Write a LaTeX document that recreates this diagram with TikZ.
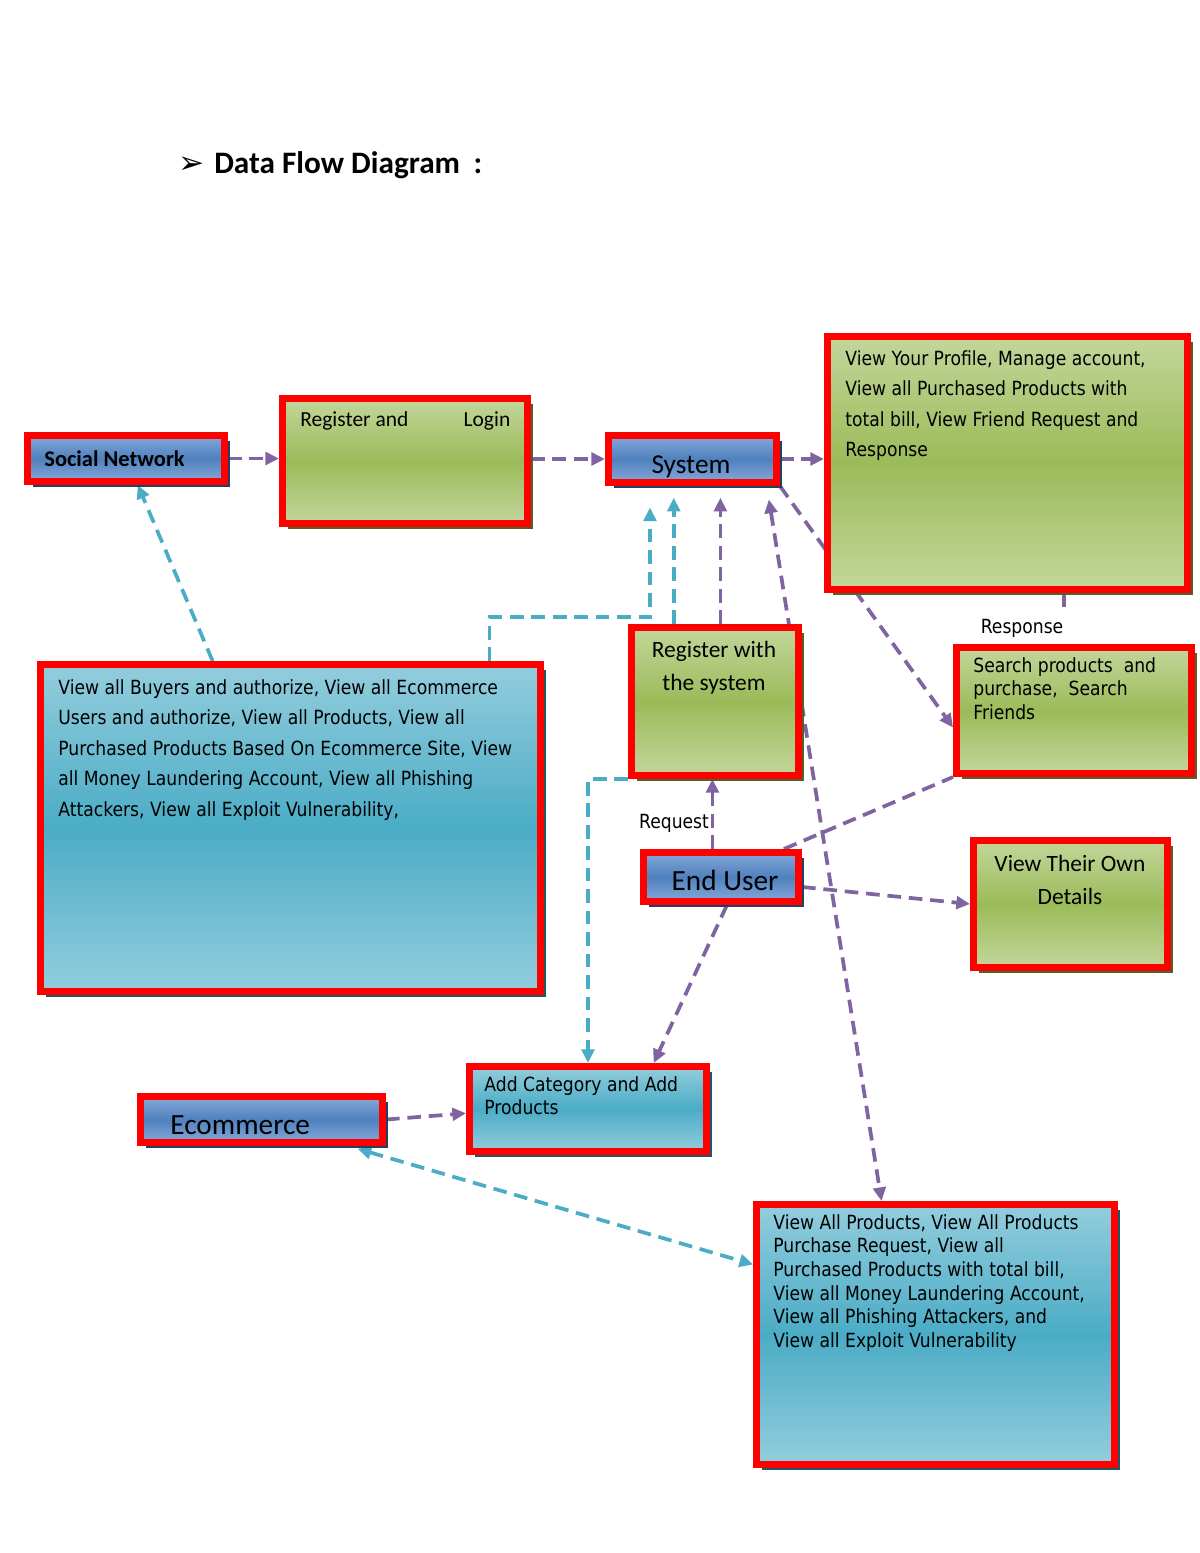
\documentclass[tikz,border=0pt]{standalone}
\usepackage{fontspec}
\setmainfont{Carlito}
\newfontfamily\tahoma[FakeStretch=0.88]{DejaVu Sans}
\newfontfamily\symfont{DejaVu Sans}
\usetikzlibrary{arrows.meta,shadows,backgrounds}
\definecolor{boxred}{HTML}{FF0000}
\definecolor{entlight}{HTML}{86A8DA}
\definecolor{entmid}{HTML}{4F81BD}
\definecolor{entshade}{HTML}{243F60}
\definecolor{proclight}{HTML}{C3D69B}
\definecolor{procmid}{HTML}{9BBB59}
\definecolor{procshade}{HTML}{4F6228}
\definecolor{storelight}{HTML}{93CDDD}
\definecolor{storemid}{HTML}{4BACC6}
\definecolor{storeshade}{HTML}{205867}
\definecolor{flowpurple}{HTML}{8064A2}
\definecolor{flowcyan}{HTML}{4BACC6}

\begin{document}
\begin{tikzpicture}[x=0.018cm, y=-0.018cm]

      \tikzset{entity/.style={draw=boxred, line width=3.6pt, inner sep=0pt, top color=entlight, bottom color=entlight, middle color=entmid, drop shadow={shadow xshift=2.9pt, shadow yshift=-2.9pt, opacity=1, fill=entshade}},
               process/.style={draw=boxred, line width=3.6pt, inner sep=0pt, top color=proclight, bottom color=proclight, middle color=procmid, drop shadow={shadow xshift=2.9pt, shadow yshift=-2.9pt, opacity=1, fill=procshade}},
               store/.style={draw=boxred, line width=3.6pt, inner sep=0pt, top color=storelight, bottom color=storelight, middle color=storemid, drop shadow={shadow xshift=2.9pt, shadow yshift=-2.9pt, opacity=1, fill=storeshade}},
               txt/.style={inner sep=0pt, align=left},
               tahomabig/.style={txt, font=\tahoma\fontsize{10}{15.6}\selectfont},
               tahomasmall/.style={txt, font=\tahoma\fontsize{10}{12.1}\selectfont},
               flow/.style={draw=flowpurple, line width=1.9pt, dash pattern=on 7pt off 4pt, >={Triangle[length=7pt,width=6.5pt]}},
               dataflow/.style={draw=flowcyan, line width=1.9pt, dash pattern=on 7pt off 4pt, >={Triangle[length=7pt,width=6.5pt]}}}

      \useasboundingbox (0,0) rectangle (1200,1553);

      \node[txt, anchor=base west, font=\bfseries\fontsize{16}{19}\selectfont] (title) at (178,173) {{\symfont\mdseries\fontsize{16}{19}\selectfont ➢}\hspace{5pt}Data Flow Diagram\hspace{7pt}:};

%% Vertices
      	\node[entity, minimum width=3.546cm, minimum height=0.828cm] (social) at (126,458.5) {};
      	\node[process, minimum width=4.41cm, minimum height=2.25cm] (reglogin) at (405,461) {};
      	\node[entity, minimum width=3.024cm, minimum height=0.846cm] (system) at (692.5,459) {};
      	\node[process, minimum width=6.48cm, minimum height=4.554cm] (profile) at (1007.5,463) {};
      	\node[process, minimum width=4.23cm, minimum height=2.268cm] (search) at (1074,710.5) {};
      	\node[process, minimum width=3.006cm, minimum height=2.664cm] (regsys) at (715,701.5) {};
      	\node[store, minimum width=9cm, minimum height=5.886cm] (admin) at (290.5,828) {};
      	\node[entity, minimum width=2.79cm, minimum height=0.882cm] (enduser) at (721,877) {};
      	\node[process, minimum width=3.492cm, minimum height=2.286cm] (owndet) at (1070.5,904) {};
      	\node[store, minimum width=4.266cm, minimum height=1.53cm] (addcat) at (588,1109) {};
      	\node[entity, minimum width=4.356cm, minimum height=0.828cm] (ecom) at (261.5,1119.5) {};
      	\node[store, minimum width=6.444cm, minimum height=4.68cm] (viewall) at (935.5,1334.5) {};

%% Texts
      	\node[txt, anchor=base west, font=\bfseries\fontsize{11.5}{14}\selectfont] (socialtxt) at (44,466) {Social Network};
      	\node[txt, anchor=base west, font=\fontsize{11}{14}\selectfont] (reglogintxt) at (300,426) {\makebox[3.78cm]{Register and\hfill Login}};
      	\node[txt, anchor=base, font=\fontsize{14}{16}\selectfont] (systemtxt) at (691,473) {System};
      	\node[tahomabig, anchor=north west] (profiletxt) at (845,350) {View Your Profile, Manage account,\\View all Purchased Products with\\total bill, View Friend Request and\\Response};
      	\node[tahomasmall, anchor=north west] (searchtxt) at (973,657) {Search products\ \ and\\purchase,\ \ Search\\Friends};
      	\node[txt, align=center, anchor=north, font=\fontsize{12}{17}\selectfont] (regsystxt) at (714,641) {Register with\\the system};
      	\node[tahomabig, anchor=north west] (admintxt) at (58,679) {View all Buyers and authorize, View all Ecommerce\\Users and authorize, View all Products, View all\\Purchased Products Based On Ecommerce Site, View\\all Money Laundering Account, View all Phishing\\Attackers, View all Exploit Vulnerability,};
      	\node[txt, anchor=base, font=\fontsize{15}{17}\selectfont] (endusertxt) at (725,890.5) {End User};
      	\node[txt, align=center, anchor=north, font=\fontsize{12}{17}\selectfont] (owndettxt) at (1070,855) {View Their Own\\Details};
      	\node[tahomasmall, anchor=north west] (addcattxt) at (484,1076) {Add Category and Add\\Products};
      	\node[txt, anchor=base west, font=\fontsize{15}{17}\selectfont] (ecomtxt) at (170,1134) {Ecommerce};
      	\node[tahomasmall, anchor=north west] (viewalltxt) at (773,1214) {View All Products, View All Products\\Purchase Request, View all\\Purchased Products with total bill,\\View all Money Laundering Account,\\View all Phishing Attackers, and\\View all Exploit Vulnerability};
      	\node[txt, font=\tahoma\fontsize{10}{12}\selectfont] (resplbl) at (1022,628) {Response};
      	\node[txt, font=\tahoma\fontsize{10}{12}\selectfont] (reqlbl) at (674,823) {Request};

%Edges
      \begin{pgfonlayer}{background}
		\draw[flow, ->] (social.east) -- (social.east -| reglogin.west);
		\draw[flow, ->] (reglogin.east |- system.west) -- (system.west);
		\draw[flow, ->] (system.east) -- (system.east -| profile.west);
		\draw[flow, ->] (system.south east) -- (search.188.2);
		\draw[flow, shorten <=6pt] (resplbl.north east) -- (resplbl.north east |- profile.south);
		\draw[dataflow, ->] (admin.115.6) -- (social.294.4);
		\coordinate (adminbend) at (650,617);
		\draw[dataflow, ->, shorten >=11pt] (admin.40.4) |- (adminbend) -- (adminbend |- system.south);
		\draw[dataflow, ->, shorten >=6pt] (regsys.118.5) -- (regsys.118.5 |- system.south);
		\draw[flow, ->, shorten >=6pt] (regsys.86.3) -- (regsys.86.3 |- system.south);
		\draw[flow, <->, shorten <=7pt] (system.340.3) -- (viewall.112.6);
		\draw[flow, ->] (enduser.107.8) -- (enduser.107.8 |- regsys.south);
		\draw[dataflow, ->] (regsys.south west) -| (addcat.north);
		\draw[flow, ->] (enduser.282.1) -- (addcat.35.7);
		\draw[flow] (enduser.24.3) -- (search.south west);
		\draw[flow, ->] (enduser.353) -- (owndet.west);
		\draw[flow, ->] (ecom.east) -- (addcat.182.3);
		\draw[dataflow, <->, shorten <=5pt] (ecom.343.8) -- (viewall.159.2);
      \end{pgfonlayer}

	\end{tikzpicture}
\end{document}
